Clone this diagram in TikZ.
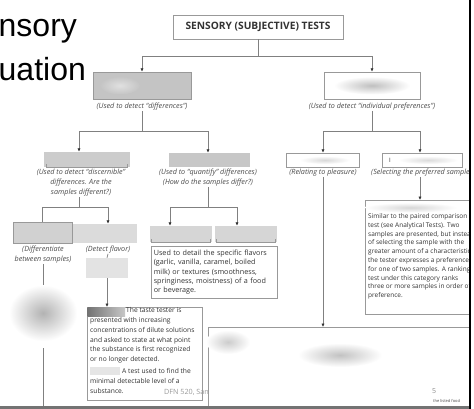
\documentclass[tikz,border=0pt]{standalone}
\usepackage{fontspec}
\setmainfont{Open Sans}
\newfontfamily\arialfont{Liberation Sans}
\usetikzlibrary{arrows.meta,shadings,calc}
\begin{document}
\begin{tikzpicture}[x=1pt,y=-1pt,
  conn/.style={draw=black!50,line width=0.7pt},
  arr/.style={conn,-{Latex[length=3.4pt,width=3.2pt,black!80]}},
  boxline/.style={draw=black!40,line width=0.6pt,inner sep=0pt},
  capt/.style={font=\fontsize{7.2}{10}\selectfont\itshape,text=black!70,align=center,inner sep=0pt},
  body/.style={font=\fontsize{6.2}{9.3}\selectfont,text=black!80,align=left},
  blurbox/.style={fill=black!20,inner sep=0pt},
]
\useasboundingbox (0,0) rectangle (474,409);
\fill[white] (0,0) rectangle (474,409);

% big slide title (clipped)
\node[anchor=base west,inner sep=0pt,font=\arialfont\fontsize{32}{32}\selectfont] (big1) at (-1.5,37) {nsory};
\node[anchor=base west,inner sep=0pt,font=\arialfont\fontsize{32}{32}\selectfont] (big2) at (-1.5,81) {uation};

% title
\node[boxline,fill=white,minimum width=170pt,minimum height=24pt,font=\bfseries\fontsize{10.2}{12}\selectfont,text=black!80] (title) at (258,27) {SENSORY (SUBJECTIVE) TESTS};

% level 1
\node[boxline,fill=black!23,minimum width=98pt,minimum height=27pt] (a1) at (142,85.5) {};
\shade[inner color=black!12,outer color=black!23] (120,85.5) ellipse (20pt and 9pt);
\node[boxline,fill=white,minimum width=96pt,minimum height=27pt] (a2) at (372,85.5) {};
\shade[inner color=black!25,outer color=white] (372,85.5) ellipse (38pt and 9pt);
\node[capt] (ca1) at (142,107) {(Used to detect “differences”)};
\node[capt] (ca2) at (372,107) {(Used to detect “individual preferences”)};

\coordinate (j0) at (258,56);
\draw[conn] (title.south) -- (j0);
\draw[arr] (j0) -| (a1.north);
\draw[arr] (j0) -| (a2.north);

% level 2 left
\node[blurbox,minimum width=86pt,minimum height=15pt] (b1) at (87,159.5) {};
\draw[conn,draw=black!40] ($(b1.south west)+(3,-3)$) -- ($(b1.south west)+(3,0)$) -- ($(b1.south east)+(-3,0)$) -- ++(0,-3);
\node[capt] (cb1) at (81,183) {(Used to detect “discernible”\\differences. Are the\\samples different?)};
\node[blurbox,fill=black!22,minimum width=81pt,minimum height=14pt] (b2) at (209.5,160) {};
\node[capt] (cb2) at (208,178) {(Used to “quantify” differences)\\(How do the samples differ?)};

\coordinate (j1) at (142,131);
\draw[conn] (ca1.south) -- (j1);
\draw[arr] (j1) -| ([xshift=-2pt]cb1.north |- b1.north);
\draw[arr] (j1) -| (cb2.north |- b2.north);

% level 2 right
\node[boxline,fill=white,minimum width=73pt,minimum height=14pt] (c3) at (323,160) {};
\shade[inner color=black!15,outer color=white] (325,160) ellipse (25pt and 4pt);
\node[boxline,fill=white,minimum width=80pt,minimum height=14pt] (c4) at (422,160) {};
\shade[inner color=black!14,outer color=white] (428,160) ellipse (30pt and 4pt);
\node[inner sep=0pt,font=\fontsize{6}{7}\selectfont,text=black!80] (c4i) at (390,160) {I};
\node[capt] (cc3) at (323,173) {(Relating to pleasure)};
\node[capt,anchor=west] (cc4) at (371,173) {(Selecting the preferred sample)};

\coordinate (j4) at (372,131);
\draw[conn] (ca2.south) -- (j4);
\draw[arr] (j4) -| (c3.north);
\draw[arr] (j4) -| ([xshift=-2pt]c4.north);

% level 3 left
\coordinate (j2) at (79,207);
\draw[conn] (cb1.south -| j2) -- (j2);
\node[boxline,fill=black!18,minimum width=59pt,minimum height=21pt] (c1) at (42.5,232.5) {};
\node[blurbox,fill=black!14,minimum width=64pt,minimum height=19pt] (c2) at (105,233.5) {};
\node[capt] (cc1) at (43,255) {(Differentiate\\between samples)};
\node[capt] (cc2) at (108,250) {(Detect flavor)};
\draw[conn] (j2) -| (c1.north);
\draw[arr] (j2) -| (cc2.north |- c2.north);

\node[inner sep=0pt,minimum width=67pt,minimum height=63pt] (e1) at (43,316.5) {};
\shade[inner color=black!30,outer color=white] (43,313) ellipse (34pt and 28pt);
\coordinate (bot1) at (43,406);
\draw[conn] (cc1.south) -- (e1.north);
\draw[conn] (e1.south) -- (bot1);

\node[blurbox,fill=black!11,minimum width=42pt,minimum height=20pt] (e2) at (107,268) {};
\draw[conn] (cc2.south) -- (e2.north);

% threshold box
\node[boxline,fill=white,anchor=north west,minimum width=115pt,minimum height=93pt] (jbox) at (87,307) {};
\shade[left color=black!55,right color=black!22] (87.5,307.5) rectangle (125,316);
\node[body,anchor=north west,inner sep=0pt,font=\fontsize{6.7}{9.8}\selectfont] (jtxt) at (90,307.5) {\hspace*{36pt}The taste tester is\\presented with increasing\\concentrations of dilute solutions\\and asked to state at what point\\the substance is first recognized\\or no longer detected.\\[2.2pt]{\color{black!10}\rule[-1.5pt]{30pt}{8pt}}\hspace*{2pt}A test used to find the\\minimal detectable level of a\\substance.};
\draw[arr] (e2.south) -- (e2.south |- jbox.north);

% level 3 middle
\node[blurbox,fill=black!16,minimum width=62pt,minimum height=16pt] (d1) at (181,234) {};
\node[blurbox,fill=black!16,minimum width=62pt,minimum height=16pt] (d2) at (246,234) {};
\draw[conn,draw=black!40] ($(d1.south west)+(2,-3)$) -- ($(d1.south west)+(2,0)$) -- ($(d1.south east)+(-2,0)$) -- ++(0,-3);
\draw[conn,draw=black!40] ($(d2.south west)+(2,-3)$) -- ($(d2.south west)+(2,0)$) -- ($(d2.south east)+(-2,0)$) -- ++(0,-3);
\coordinate (j3) at (208,207);
\draw[conn] (cb2.south) -- (j3);
\draw[arr] (j3) -| ([xshift=-11pt]d1.north);
\draw[arr] (j3) -| ([xshift=-9pt]d2.north);

\node[boxline,body,anchor=north west,fill=white,text width=121pt,inner sep=2.5pt,minimum height=52pt,font=\fontsize{7.2}{9.3}\selectfont] (ibox) at (151,246) {Used to detail the specific flavors\\(garlic, vanilla, caramel, boiled\\milk) or textures (smoothness,\\springiness, moistness) of a food\\or beverage.};

% preference box
\node[boxline,fill=white,anchor=north west,minimum width=110pt,minimum height=114pt] (ebox) at (365,200) {};
\shade[inner color=black!16,outer color=white] (411,207.5) ellipse (46pt and 5pt);
\node[body,anchor=north west,inner sep=0pt,font=\fontsize{6.5}{8.8}\selectfont] (etxt) at (368,213.3) {Similar to the paired comparison\\test (see Analytical Tests). Two\\samples are presented, but instead\\of selecting the sample with the\\greater amount of a characteristic,\\the tester expresses a preference\\for one of two samples. A ranking\\test under this category ranks\\three or more samples in order of\\preference.};
\draw[arr] ([xshift=-2pt]c4.south |- cc4.south) -- ([xshift=-2pt]c4.south |- ebox.north);

% big bottom box
\node[boxline,fill=white,anchor=north west,minimum width=270pt,minimum height=90pt] (kbox) at (208,327) {};
\shade[inner color=black!20,outer color=white] (228,342) ellipse (22pt and 12pt);
\shade[inner color=black!24,outer color=white] (340,355) ellipse (42pt and 12pt);
\draw[arr] (cc3.south) -- (cc3.south |- kbox.north);

\begin{scope}
\clip (150,380) rectangle (214,400);
\node[anchor=base west,inner sep=0pt,text=black!40,font=\fontsize{7.2}{8}\selectfont] (foot) at (164,394) {DFN 520, San};
\end{scope}
\node[anchor=base west,inner sep=0pt,text=black!45,font=\fontsize{7}{8}\selectfont] (pg) at (432,393) {5};
\node[anchor=base west,inner sep=0pt,text=black!70,font=\fontsize{4}{5}\selectfont] (fn) at (433,402) {the listed food};

% slide edges
\fill[black!55] (0,405.5) rectangle (469,409);
\fill[white] (470.5,0) rectangle (474,409);
\fill[black] (469,0) rectangle (470.8,409);
\end{tikzpicture}
\end{document}
